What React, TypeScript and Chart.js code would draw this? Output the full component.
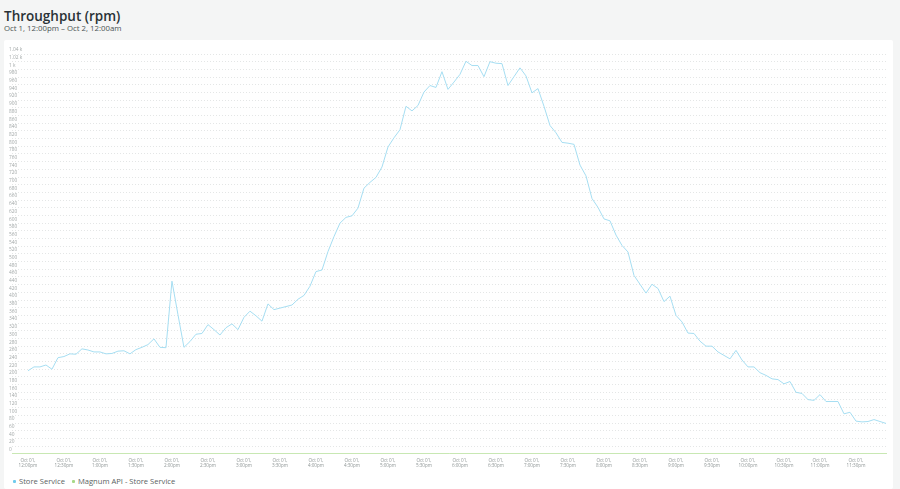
import React, { useEffect, useRef } from "react";
import { Chart, registerables } from "chart.js";

Chart.register(...registerables);

// Store Service throughput (rpm), 5-minute points from Oct 01 12:00pm to 11:55pm
const storeService = [
  216, 226, 226, 231, 220, 250, 253, 260, 259, 273, 270, 265,
  265, 260, 261, 267, 268, 260, 271, 277, 284, 299, 277, 276,
  449, 362, 277, 292, 311, 313, 336, 323, 309, 328, 338, 323,
  355, 371, 359, 345, 390, 375, 379, 383, 387, 402, 412, 436,
  474, 478, 526, 565, 600, 615, 619, 639, 691, 706, 719, 746,
  798, 822, 843, 904, 892, 906, 941, 958, 953, 994, 948, 967,
  987, 1021, 1010, 1010, 981, 1020, 1016, 1015, 958, 981, 1004, 983,
  939, 950, 904, 854, 835, 810, 808, 805, 751, 723, 664, 641,
  611, 606, 569, 542, 525, 464, 441, 418, 441, 430, 396, 410,
  360, 343, 314, 313, 293, 280, 280, 265, 256, 247, 269, 244,
  226, 226, 211, 204, 195, 193, 182, 188, 160, 157, 141, 139,
  154, 136, 136, 136, 104, 108, 85, 83, 84, 89, 84, 79,
];

// Magnum API - Store Service throughput (rpm): flat at zero
const magnumApi = [
  0, 0, 0, 0, 0, 0, 0, 0, 0, 0, 0, 0, 0, 0, 0, 0, 0, 0, 0, 0, 0, 0, 0, 0,
  0, 0, 0, 0, 0, 0, 0, 0, 0, 0, 0, 0, 0, 0, 0, 0, 0, 0, 0, 0, 0, 0, 0, 0,
  0, 0, 0, 0, 0, 0, 0, 0, 0, 0, 0, 0, 0, 0, 0, 0, 0, 0, 0, 0, 0, 0, 0, 0,
  0, 0, 0, 0, 0, 0, 0, 0, 0, 0, 0, 0, 0, 0, 0, 0, 0, 0, 0, 0, 0, 0, 0, 0,
  0, 0, 0, 0, 0, 0, 0, 0, 0, 0, 0, 0, 0, 0, 0, 0, 0, 0, 0, 0, 0, 0, 0, 0,
  0, 0, 0, 0, 0, 0, 0, 0, 0, 0, 0, 0, 0, 0, 0, 0, 0, 0, 0, 0, 0, 0, 0, 0,
];

const stepMinutes = 5; // sampling interval (minutes after 12:00pm)

const xTickMinutes = [
  0, 30, 60, 90, 120, 150, 180, 210, 240, 270, 300, 330,
  360, 390, 420, 450, 480, 510, 540, 570, 600, 630, 660, 690,
];
const xTickTimes = [
  "12:00pm", "12:30pm", "1:00pm", "1:30pm", "2:00pm", "2:30pm",
  "3:00pm", "3:30pm", "4:00pm", "4:30pm", "5:00pm", "5:30pm",
  "6:00pm", "6:30pm", "7:00pm", "7:30pm", "8:00pm", "8:30pm",
  "9:00pm", "9:30pm", "10:00pm", "10:30pm", "11:00pm", "11:30pm",
];
const xTickDate = "Oct 01,";

const yMin = 0;
const yMax = 1040;
const yStep = 20;

const seriesNames = ["Store Service", "Magnum API - Store Service"];
const lineColors = ["#a6def2", "#c9e8b4"];
const legendColors = ["#6fcbed", "#a7d987"];

const FONT = "'Open Sans', 'Noto Sans', sans-serif";

export default function App() {
  const canvasRef = useRef<HTMLCanvasElement | null>(null);

  useEffect(() => {
    const canvas = canvasRef.current;
    if (!canvas) return;
    const chart = new Chart(canvas, {
      type: "line",
      data: {
        datasets: [
          {
            label: seriesNames[0],
            data: storeService.map((v, i) => ({ x: i * stepMinutes, y: v })),
            borderColor: lineColors[0],
            borderWidth: 1,
            pointRadius: 0,
            tension: 0,
            fill: false,
          },
          {
            label: seriesNames[1],
            data: magnumApi.map((v, i) => ({ x: i * stepMinutes, y: v })),
            borderColor: lineColors[1],
            borderWidth: 1,
            pointRadius: 0,
            tension: 0,
            fill: false,
          },
        ],
      },
      options: {
        animation: false,
        responsive: true,
        maintainAspectRatio: false,
        layout: { padding: { left: 8, right: 7, top: 14, bottom: 0 } },
        plugins: {
          legend: { display: false },
          tooltip: { enabled: false },
        },
        scales: {
          x: {
            type: "linear",
            min: -13.3,
            max: 715,
            grid: { display: false, drawTicks: false },
            border: { display: true, color: lineColors[1], width: 1 },
            afterBuildTicks: (scale: any) => {
              scale.ticks = xTickMinutes.map((v) => ({ value: v }));
            },
            ticks: {
              autoSkip: false,
              maxRotation: 0,
              minRotation: 0,
              padding: 5,
              color: "#8f9696",
              font: { family: FONT, size: 4.6, lineHeight: 1.0 },
              callback: (_v: any, index: number) => [xTickDate, xTickTimes[index]],
            },
          },
          y: {
            min: yMin,
            max: yMax,
            grid: {
              color: "#e4e6e6",
              lineWidth: 1,
              drawTicks: false,
            },
            border: { display: false, dash: [1, 2] },
            ticks: {
              stepSize: yStep,
              autoSkip: false,
              mirror: true,
              padding: -1,
              labelOffset: -4,
              color: "#a3a9a9",
              font: { family: FONT, size: 4.8 },
              callback: (v: any) => {
                const n = Number(v);
                return n >= 1000 ? `${+(n / 1000).toFixed(2)} k` : `${n}`;
              },
            },
          },
        },
      },
    });
    return () => chart.destroy();
  }, []);

  return (
    <div
      style={{
        position: "fixed",
        left: 0,
        top: 0,
        width: 900,
        height: 489,
        background: "#f4f5f5",
        overflow: "hidden",
        fontFamily: FONT,
      }}
    >
      <div
        style={{
          position: "absolute",
          left: 4,
          top: 8,
          fontSize: 13.5,
          fontWeight: 600,
          color: "#293236",
          lineHeight: "16px",
          whiteSpace: "nowrap",
        }}
      >
        Throughput (rpm)
      </div>
      <div
        style={{
          position: "absolute",
          left: 4,
          top: 23,
          fontSize: 7.8,
          color: "#4a5353",
          lineHeight: "10px",
          whiteSpace: "nowrap",
        }}
      >
        Oct 1, 12:00pm – Oct 2, 12:00am
      </div>
      <div
        style={{
          position: "absolute",
          left: 4,
          top: 40,
          width: 889,
          height: 449,
          background: "#ffffff",
          overflow: "hidden",
          borderRadius: 2,
        }}
      >
        <div style={{ position: "absolute", left: 0, top: 0, width: 889, height: 433 }}>
          <canvas ref={canvasRef} />
        </div>
        <div
          style={{
            position: "absolute",
            left: 9,
            top: 436,
            display: "flex",
            alignItems: "center",
            fontSize: 7.6,
            color: "#5a6262",
            whiteSpace: "nowrap",
          }}
        >
          {seriesNames.map((name, i) => (
            <span key={name} style={{ display: "flex", alignItems: "center", marginRight: 7 }}>
              <span
                style={{
                  display: "inline-block",
                  width: 3,
                  height: 3,
                  borderRadius: 1,
                  background: legendColors[i],
                  marginRight: 3,
                }}
              />
              {name}
            </span>
          ))}
        </div>
      </div>
    </div>
  );
}
